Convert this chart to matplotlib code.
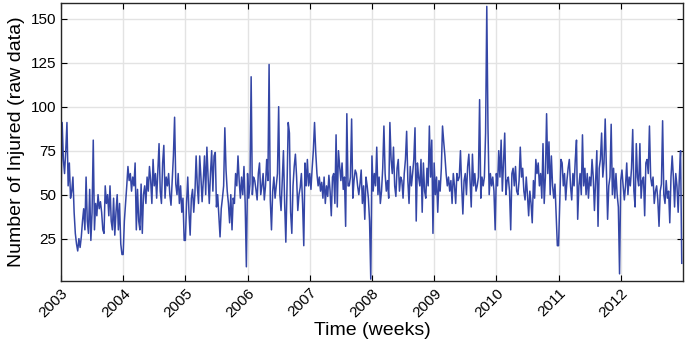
import numpy as np
import matplotlib
matplotlib.use("Agg")
import matplotlib.pyplot as plt

plt.rcParams['font.family'] = ['Liberation Sans', 'DejaVu Sans']

years = [2003, 2004, 2005, 2006, 2007, 2008, 2009, 2010, 2011, 2012]

y2003 = [45, 91, 70, 62, 75, 91, 55, 68, 48, 52, 60,
         40, 28, 22, 18, 25, 20, 26, 35, 42, 30,
         60, 35, 28, 53, 24, 40, 81, 30, 45, 38,
         50, 42, 46, 40, 30, 28, 55, 45, 50, 38,
         55, 35, 30, 48, 27, 40, 50, 30, 45, 22, 16]
y2004 = [16, 35, 45, 55, 66, 58, 62, 52, 60, 55,
         68, 30, 53, 35, 30, 56, 28, 50, 55, 45,
         60, 52, 66, 58, 45, 70, 55, 62, 48, 64,
         79, 52, 45, 68, 78, 48, 60, 55, 62, 50,
         44, 58, 72, 94, 56, 50, 62, 45, 55, 40, 48, 24]
y2005 = [24, 45, 60, 40, 27, 48, 53, 40, 51, 72,
         55, 45, 72, 60, 46, 58, 72, 50, 77, 60,
         45, 62, 75, 52, 72, 74, 43, 50, 38, 26,
         42, 48, 55, 88, 64, 52, 45, 34, 50, 30,
         48, 45, 62, 55, 72, 58, 48, 60, 50, 66, 45, 9]
y2006 = [62, 48, 56, 117, 50, 60, 58, 53, 47, 62,
         68, 50, 55, 62, 47, 55, 70, 58, 124, 47,
         30, 52, 60, 48, 55, 62, 100, 50, 41, 58,
         75, 45, 23, 55, 91, 85, 40, 28, 55, 66,
         73, 60, 41, 50, 54, 62, 45, 21, 68, 55, 70, 55]
y2007 = [62, 53, 65, 75, 91, 74, 62, 55, 60, 52,
         57, 48, 60, 45, 55, 49, 61, 52, 38, 60,
         62, 45, 84, 43, 75, 66, 58, 68, 53, 60,
         32, 96, 55, 55, 60, 93, 48, 58, 64, 62,
         55, 50, 56, 64, 45, 55, 36, 60, 55, 48, 35, 2]
y2008 = [72, 52, 62, 55, 77, 50, 60, 45, 52, 65,
         89, 62, 52, 58, 48, 91, 70, 62, 77, 55,
         49, 65, 70, 52, 60, 58, 48, 62, 70, 86,
         58, 45, 66, 55, 62, 70, 88, 35, 68, 60,
         55, 70, 40, 68, 52, 48, 65, 55, 89, 60, 81, 28]
y2009 = [68, 50, 60, 40, 58, 52, 65, 89, 80, 72,
         62, 55, 60, 52, 58, 45, 62, 55, 45, 62,
         58, 60, 75, 55, 39, 58, 62, 50, 66, 73,
         58, 43, 73, 55, 62, 52, 55, 60, 104, 48,
         60, 55, 60, 85, 157, 88, 50, 62, 55, 60, 52, 30]
y2010 = [62, 55, 75, 60, 81, 52, 68, 85, 50, 58,
         60, 52, 30, 62, 65, 55, 66, 52, 50, 58,
         77, 60, 65, 52, 47, 60, 50, 38, 52, 45,
         34, 58, 48, 70, 62, 68, 55, 62, 48, 79,
         45, 60, 96, 62, 80, 50, 72, 55, 48, 56, 38, 21]
y2011 = [21, 45, 70, 68, 55, 62, 47, 58, 65, 70,
         55, 47, 62, 55, 70, 81, 36, 55, 62, 50,
         84, 55, 65, 50, 62, 48, 60, 55, 70, 60,
         41, 58, 75, 32, 65, 70, 85, 60, 68, 93,
         65, 36, 55, 60, 90, 50, 65, 48, 62, 50, 43, 5]
y2012 = [58, 64, 55, 47, 55, 68, 50, 60, 55, 65,
         87, 52, 43, 79, 60, 55, 79, 48, 58, 60,
         38, 68, 70, 62, 89, 60, 55, 60, 45, 52,
         55, 47, 32, 52, 56, 92, 50, 45, 58, 48,
         52, 34, 60, 72, 60, 43, 62, 55, 40, 60, 75, 11]

injured = np.array(y2003 + y2004 + y2005 + y2006 + y2007 +
                   y2008 + y2009 + y2010 + y2011 + y2012, dtype=float)
t = 2003 + np.arange(len(injured)) / 52.0

yticks = [25, 50, 75, 100, 125, 150]

fig = plt.figure(figsize=(6.85, 3.56), dpi=100)
ax = fig.add_axes([0.089, 0.211, 0.908, 0.781])
ax.plot(t, injured, color='#3446a6', lw=1.1)
ax.set_xlim(2003, 2013)
ax.set_ylim(1, 159)
ax.set_xticks(years)
ax.set_xticklabels([str(y) for y in years], rotation=45, ha='right',
                   rotation_mode='anchor', fontsize=11)
ax.set_yticks(yticks)
ax.tick_params(axis='y', labelsize=11)
ax.tick_params(direction='in', top=True, right=True, length=4, width=0.8)
ax.grid(True, color='#e3e3e3', lw=1.0)
ax.set_axisbelow(True)
for s in ax.spines.values():
    s.set_linewidth(1.0)
    s.set_color('#262626')
ax.set_xlabel('Time (weeks)', fontsize=14, labelpad=2)
ax.set_ylabel('Number of Injured (raw data)', fontsize=14, labelpad=4)
fig.savefig('out.png', dpi=100)
